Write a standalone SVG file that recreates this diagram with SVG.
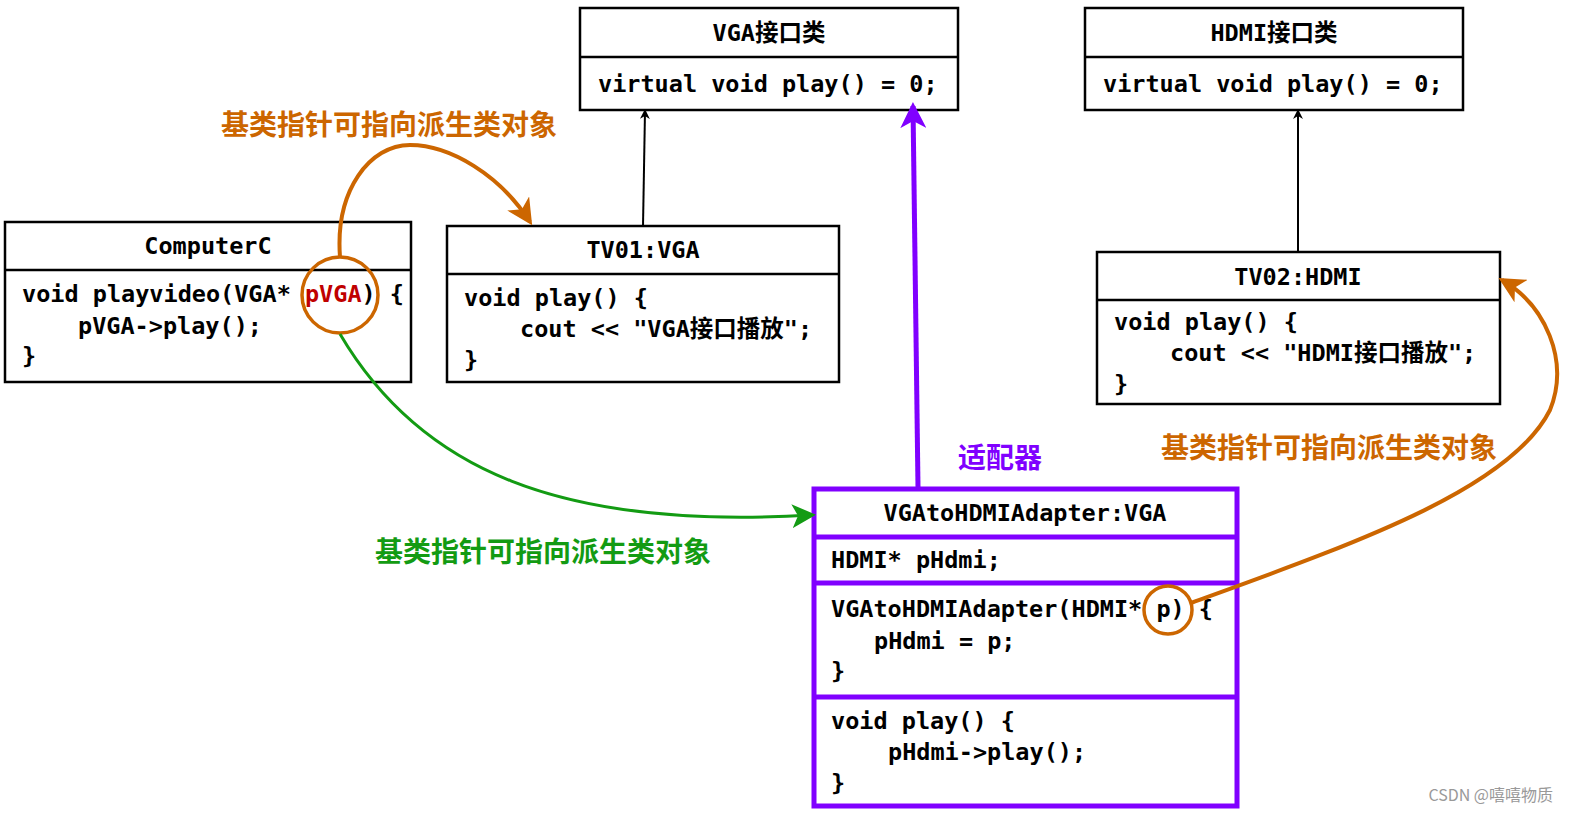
<svg xmlns="http://www.w3.org/2000/svg" width="1589" height="824" viewBox="0 0 1589 824">
<style>
.box{fill:#fff;stroke:#000;stroke-width:2.5}
.pb{fill:#fff;stroke:#8000ff;stroke-width:5}
.dv{stroke:#000;stroke-width:2.5}
.pdv{stroke:#8000ff;stroke-width:5}
.c{font-family:"DejaVu Sans Mono","Liberation Mono","Noto Sans CJK SC",monospace;font-weight:bold;font-size:23.5px;fill:#000}
.h{text-anchor:middle}
.lab{font-family:"Noto Sans CJK SC",sans-serif;font-weight:bold;font-size:28px;text-anchor:middle}
</style>
<defs>
<marker id="ab" markerWidth="10" markerHeight="10" refX="8" refY="5" orient="auto" markerUnits="userSpaceOnUse"><path d="M0,0 L10,5 L0,10 L3,5z" fill="#000"/></marker>
<marker id="ap" markerWidth="26" markerHeight="26" refX="22" refY="13" orient="auto" markerUnits="userSpaceOnUse"><path d="M0,0 L26,13 L0,26 L7,13z" fill="#8000ff"/></marker>
<marker id="ao" markerWidth="26" markerHeight="26" refX="22" refY="13" orient="auto" markerUnits="userSpaceOnUse"><path d="M0,0 L26,13 L0,26 L7,13z" fill="#cc6600"/></marker>
<marker id="ag" markerWidth="24" markerHeight="24" refX="20" refY="12" orient="auto" markerUnits="userSpaceOnUse"><path d="M0,0 L24,12 L0,24 L6,12z" fill="#139b13"/></marker>
</defs>
<g id="vga">
<rect class="box" x="580" y="8" width="378" height="102"/><line class="dv" x1="580" y1="57" x2="958" y2="57"/>
<text class="c h" x="769" y="41">VGA接口类</text>
<text class="c" x="598" y="92">virtual void play() = 0;</text>
</g>
<g id="hdmi">
<rect class="box" x="1085" y="8" width="378" height="102"/><line class="dv" x1="1085" y1="57" x2="1463" y2="57"/>
<text class="c h" x="1274" y="41">HDMI接口类</text>
<text class="c" x="1103" y="92">virtual void play() = 0;</text>
</g>
<g id="computer">
<rect class="box" x="5" y="222" width="406" height="160"/><line class="dv" x1="5" y1="270" x2="411" y2="270"/>
<text class="c h" x="208" y="254">ComputerC</text>
<text class="c" x="22" y="302">void playvideo(VGA* <tspan fill="#c00000">pVGA</tspan>) {</text>
<text class="c" x="78" y="334">pVGA-&gt;play();</text>
<text class="c" x="22" y="364">}</text>
<circle cx="340" cy="295" r="38" fill="none" stroke="#cc6600" stroke-width="3.5"/>
</g>
<g id="tv01">
<rect class="box" x="447" y="226" width="392" height="156"/><line class="dv" x1="447" y1="274" x2="839" y2="274"/>
<text class="c h" x="643" y="258">TV01:VGA</text>
<text class="c" x="464" y="306">void play() {</text>
<text class="c" x="520" y="337">cout &lt;&lt; "VGA接口播放";</text>
<text class="c" x="464" y="368">}</text>
</g>
<g id="tv02">
<rect class="box" x="1097" y="252" width="403" height="152"/><line class="dv" x1="1097" y1="300" x2="1500" y2="300"/>
<text class="c h" x="1298" y="285">TV02:HDMI</text>
<text class="c" x="1114" y="330">void play() {</text>
<text class="c" x="1170" y="361">cout &lt;&lt; "HDMI接口播放";</text>
<text class="c" x="1114" y="392">}</text>
</g>
<g id="adapter">
<rect class="pb" x="814" y="489" width="423" height="317"/>
<line class="pdv" x1="814" y1="537" x2="1237" y2="537"/>
<line class="pdv" x1="814" y1="583" x2="1237" y2="583"/>
<line class="pdv" x1="814" y1="697" x2="1237" y2="697"/>
<text class="c h" x="1025" y="521">VGAtoHDMIAdapter:VGA</text>
<text class="c" x="831" y="568">HDMI* pHdmi;</text>
<text class="c" x="831" y="617">VGAtoHDMIAdapter(HDMI* p) {</text>
<text class="c" x="874" y="649">pHdmi = p;</text>
<text class="c" x="831" y="679">}</text>
<text class="c" x="831" y="729">void play() {</text>
<text class="c" x="888" y="760">pHdmi-&gt;play();</text>
<text class="c" x="831" y="791">}</text>
<circle cx="1168" cy="610" r="24" fill="none" stroke="#cc6600" stroke-width="3.5"/>
</g>
<g id="connectors" fill="none">
<line x1="643" y1="226" x2="645" y2="111" stroke="#000" stroke-width="2" marker-end="url(#ab)"/>
<line x1="1298" y1="252" x2="1298" y2="111" stroke="#000" stroke-width="2" marker-end="url(#ab)"/>
<line x1="918" y1="487" x2="913" y2="106" stroke="#8000ff" stroke-width="5" marker-end="url(#ap)"/>
<path d="M340,257 C335,190 370,145 410,145 C450,145 500,175 530,222" stroke="#cc6600" stroke-width="4" marker-end="url(#ao)"/>
<path d="M340,334 C420,470 560,530 812,515" stroke="#139b13" stroke-width="3" marker-end="url(#ag)"/>
<path d="M1191,603 C1350,545 1510,490 1550,410 C1570,360 1545,305 1502,280" stroke="#cc6600" stroke-width="4" marker-end="url(#ao)"/>
</g>
<text class="lab" x="389" y="135" fill="#cc6600">基类指针可指向派生类对象</text>
<text class="lab" x="543" y="562" fill="#139b13">基类指针可指向派生类对象</text>
<text class="lab" x="1329" y="458" fill="#cc6600">基类指针可指向派生类对象</text>
<text class="lab" x="1000" y="468" fill="#8000ff" font-size="31">适配器</text>
<text x="1553" y="801" font-family="'Noto Sans CJK SC',sans-serif" font-size="16" fill="#999" text-anchor="end">CSDN @嘻嘻物质</text>
</svg>
